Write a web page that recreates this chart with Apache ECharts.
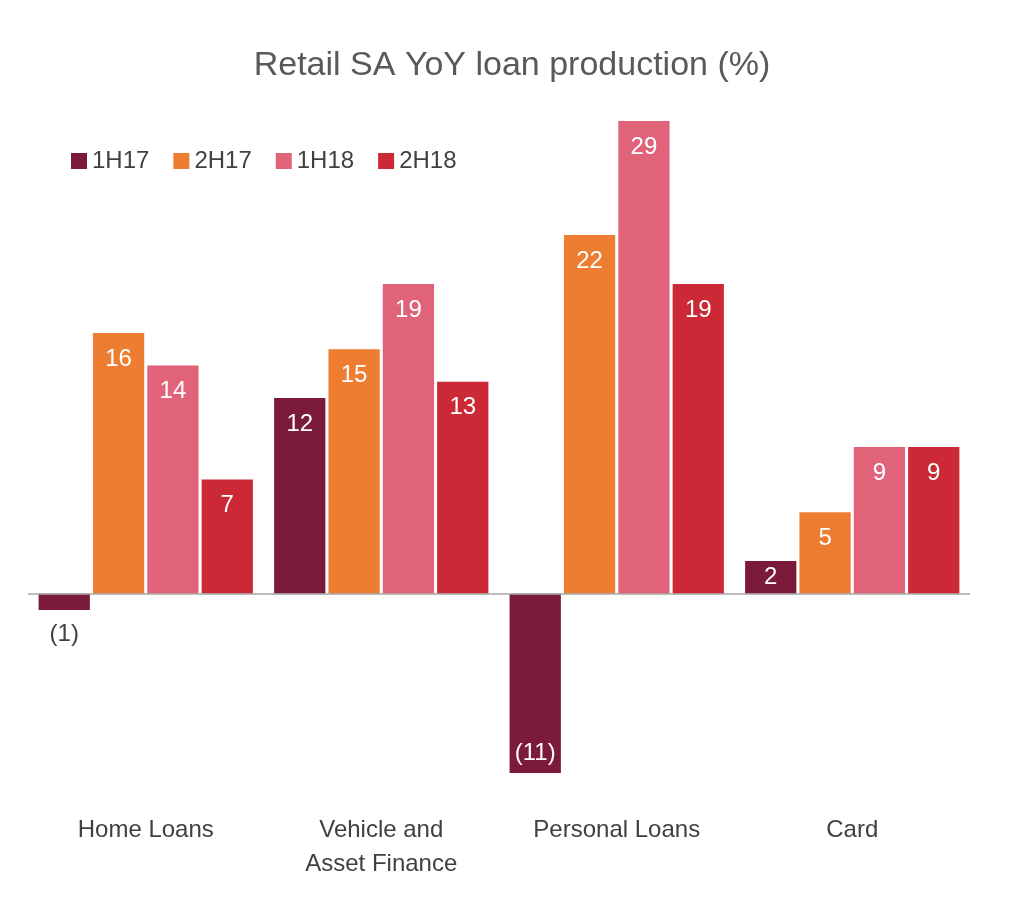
<!DOCTYPE html>
<html><head><meta charset="utf-8">
<script src="https://cdn.jsdelivr.net/npm/echarts@6/dist/echarts.min.js"></script>
<style>html,body{margin:0;padding:0;background:#fff}#c{width:1024px;height:904px}</style>
</head><body><div id="c"></div>
<script>
const categories = ['Home Loans', 'Vehicle and\nAsset Finance', 'Personal Loans', 'Card'];
const seriesNames = ['1H17', '2H17', '1H18', '2H18'];
const v1H17 = [-1, 12, -11, 2];
const v2H17 = [16, 15, 22, 5];
const v1H18 = [14, 19, 29, 9];
const v2H18 = [7, 13, 19, 9];
const colors = ['#7B1A3A', '#ED7D31', '#E0637A', '#CC2936'];
const values = [v1H17, v2H17, v1H18, v2H18];

const fmt = v => v < 0 ? '(' + Math.abs(v) + ')' : String(v);
const series = values.map((arr, i) => ({
  name: seriesNames[i], type: 'bar', barGap: '6%', barCategoryGap: '9%',
  itemStyle: { color: colors[i] },
  data: arr.map(v => {
    let label;
    if (v < 0 && v > -3) label = { show: true, position: 'bottom', distance: 12, color: '#404040' };
    else if (v < 0) label = { show: true, position: 'insideBottom', distance: 8, color: '#fff' };
    else if (v <= 3) label = { show: true, position: 'inside', color: '#fff' };
    else label = { show: true, position: 'insideTop', distance: 14, color: '#fff' };
    return { value: v, label: Object.assign({ formatter: p => fmt(p.value), fontSize: 24, fontFamily: 'Liberation Sans' }, label) };
  }),
  markLine: i === 0 ? { silent: true, symbol: 'none', label: { show: false },
    lineStyle: { color: '#A6A6A6', width: 1.5, type: 'solid' }, data: [{ yAxis: 0 }] } : undefined
}));

const chart = echarts.init(document.getElementById('c'));
chart.setOption({
  animation: false,
  title: { text: 'Retail SA YoY loan production (%)', left: 'center', top: 44,
    textStyle: { fontSize: 34, fontWeight: 'normal', color: '#595959', fontFamily: 'Liberation Sans' } },
  legend: { left: 66, top: 144, itemWidth: 16, itemHeight: 16, itemGap: 24, icon: 'rect',
    textStyle: { fontSize: 24, color: '#404040', fontFamily: 'Liberation Sans' }, data: seriesNames },
  grid: { left: 28, right: 54, top: 121, bottom: 131 },
  xAxis: { type: 'category', data: categories, axisLine: { show: false }, axisTick: { show: false },
    axisLabel: { margin: 40, fontSize: 24, color: '#404040', lineHeight: 34, fontFamily: 'Liberation Sans' } },
  yAxis: { type: 'value', min: -11, max: 29, show: false, splitLine: { show: false } },
  series
});
</script></body></html>
